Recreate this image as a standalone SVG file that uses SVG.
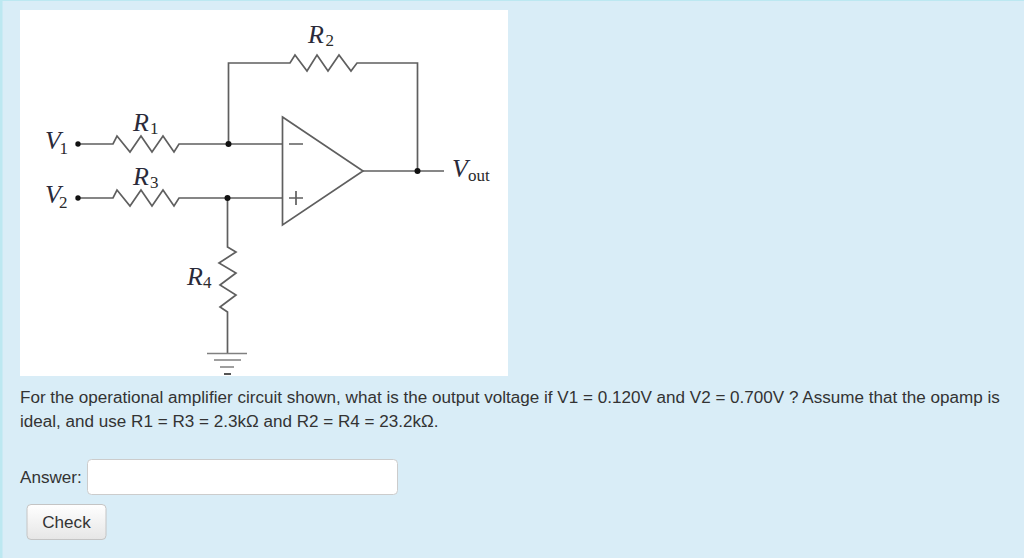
<svg xmlns="http://www.w3.org/2000/svg" width="1024" height="558" viewBox="0 0 1024 558">
<defs><linearGradient id="btn" x1="0" y1="0" x2="0" y2="1"><stop offset="0" stop-color="#ffffff"/><stop offset="1" stop-color="#e6e6e6"/></linearGradient></defs>
<style>
.w{fill:none;stroke:#5f5f5f;stroke-width:1.7;stroke-linejoin:miter}
.g{fill:none;stroke:#808080;stroke-width:1.7}
.d{fill:#111}
.m{font-family:"Liberation Serif",serif;fill:#2a2a3a;font-style:italic;font-size:26px}
.s{font-family:"Liberation Serif",serif;fill:#2a2a2a;font-size:17px}
.o{font-family:"Liberation Serif",serif;fill:#2a2a2a;font-size:17px}
.t{font-family:"Liberation Sans",Arial,sans-serif;fill:#333;font-size:17.09px}
</style>
<rect width="1024" height="558" fill="#d9edf7"/>
<rect x="0" y="0" width="2.500" height="558" fill="#bce8f1"/>
<rect x="0" y="0" width="1024" height="1" fill="#bce8f1"/>
<rect x="20" y="10" width="488" height="366" fill="#fff"/>
<g id="connectors">
<path class="w" d="M78 144H113L117 136 130 152 141 136 152 152 163 136 174 152 179 144H282"/>
<path class="w" d="M78 198H113L117 190 130 206 141 190 152 206 163 190 174 206 179 198H282"/>
<path class="w" d="M228.500 144V63H290L295 55 307 71 317 55 328 71 339 55 351 71 357 63H417.500V171"/>
<path class="w" d="M363 171H444"/>
<path class="w" d="M227.500 198V247L236 252 219 263 236 273 220 285 236 295 220 307 227.500 312V353"/>
</g>
<g id="opamp"><path class="w" d="M282.500 117L363 171 282.500 225Z"/><path class="w" d="M289 144H303M289 198H303M296 191V205"/></g>
<g id="junctions"><circle class="d" cx="78" cy="144" r="2.700"/><circle class="d" cx="78" cy="198" r="2.700"/><circle class="d" cx="228.500" cy="144" r="3"/><circle class="d" cx="227.500" cy="198" r="3"/><circle class="d" cx="417.500" cy="171" r="3"/></g>
<g id="ground"><path class="g" d="M207 353.500H247M214 360H241M220 367H234"/><path d="M224 374H231" stroke="#555" stroke-width="2"/></g>
<g id="label-r1"><text class="m" x="133" y="131">R</text><text class="s" x="150" y="134">1</text></g>
<g id="label-r3"><text class="m" x="133" y="185">R</text><text class="s" x="150" y="187.500">3</text></g>
<g id="label-r2"><text class="m" x="308" y="43">R</text><text class="s" x="325.500" y="45.500">2</text></g>
<g id="label-r4"><text class="m" x="187" y="285">R</text><text class="s" x="203" y="287.500">4</text></g>
<g id="label-v1"><text class="m" x="45" y="149">V</text><text class="s" x="59.500" y="154">1</text></g>
<g id="label-v2"><text class="m" x="45" y="203">V</text><text class="s" x="59" y="207.500">2</text></g>
<g id="label-vout"><text class="m" x="452" y="177">V</text><text class="o" x="468" y="181">out</text></g>
<text class="t" x="20" y="403">For the operational amplifier circuit shown, what is the output voltage if V1 = 0.120V and V2 = 0.700V ? Assume that the opamp is</text>
<text class="t" x="20" y="427">ideal, and use R1 = R3 = 2.3kΩ and R2 = R4 = 23.2kΩ.</text>
<text class="t" x="20" y="483">Answer:</text>
<rect x="87.500" y="459.500" width="310" height="35" rx="4" fill="#fff" stroke="#ccc"/>
<rect x="27" y="504.500" width="79" height="35" rx="4" fill="url(#btn)" stroke="#c4c4c4"/>
<text class="t" x="66.500" y="527.500" text-anchor="middle">Check</text>
</svg>
